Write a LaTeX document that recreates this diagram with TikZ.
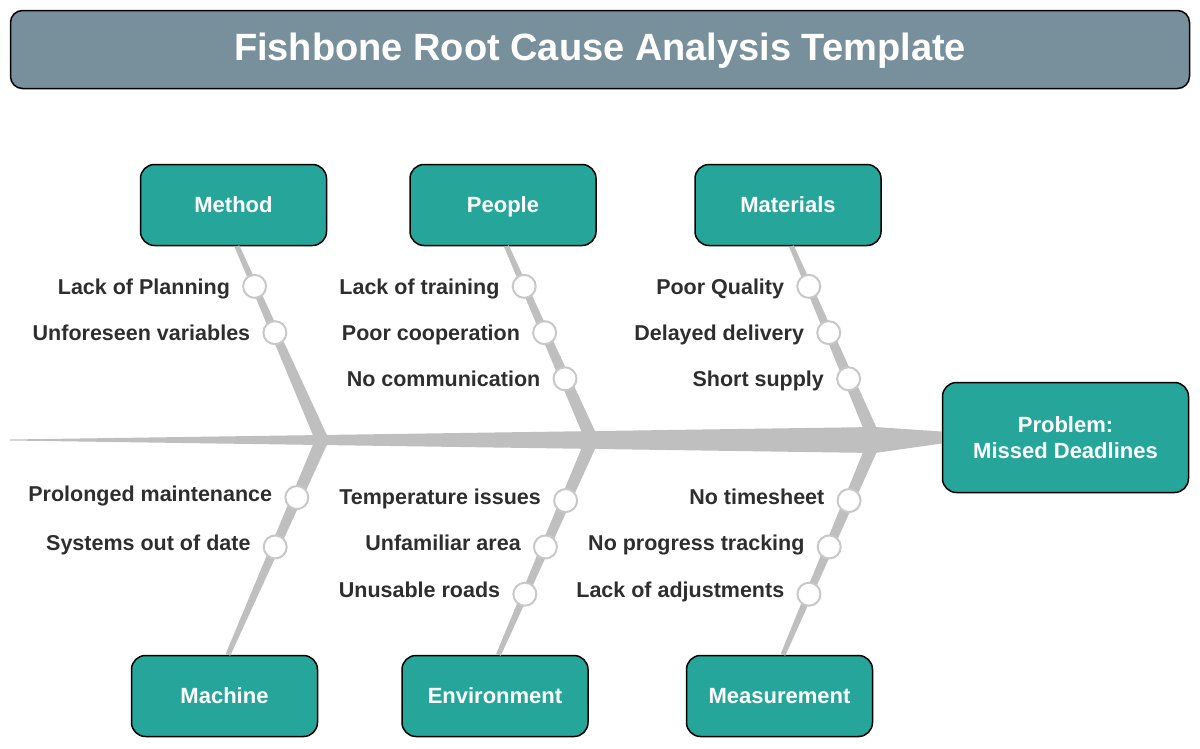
\documentclass[tikz,border=0pt]{standalone}
\usepackage{fontspec}
\setmainfont{Liberation Sans}
\usepackage{tikz}
\usetikzlibrary{calc,positioning}

\definecolor{teal}{HTML}{26A69A}
\definecolor{slate}{HTML}{78909C}
\definecolor{bonegray}{HTML}{BFBFBF}
\definecolor{dotgray}{HTML}{C8C8C8}
\definecolor{textgray}{HTML}{2E2E2E}

\begin{document}
\begin{tikzpicture}[x=1pt, y=-1pt,
        cat/.style={draw=black, line width=1.5pt, fill=teal, rounded corners=14pt, minimum width=186pt, minimum height=81pt, text=white, text height=15.7pt, text depth=0pt, font=\fontsize{22}{26}\selectfont\bfseries},
        titlebox/.style={draw=black, line width=1.5pt, fill=slate, rounded corners=12pt, minimum width=1179pt, minimum height=78pt, text=white, text height=27pt, text depth=5pt, font=\fontsize{38}{40}\selectfont\bfseries},
        bone/.style={fill=bonegray},
        dot/.style={circle, draw=dotgray, line width=2pt, fill=white, minimum size=23pt, inner sep=0pt},
        cause/.style={text=textgray, inner sep=0pt, text height=15.4pt, text depth=0pt, font=\fontsize{21.5}{24}\selectfont\bfseries},
        causelow/.style={cause, yshift=4pt}]
        \useasboundingbox (0,0) rectangle (1200,748);
        \node[titlebox] (title) at (600,49.5) {Fishbone Root Cause Analysis Template};

        \node[cat] (method) at (233.5,205) {Method};
        \node[cat] (people) at (503,205) {People};
        \node[cat] (materials) at (788,205) {Materials};
        \node[cat] (machine) at (224.5,696) {Machine};
        \node[cat] (environment) at (495,696) {Environment};
        \node[cat] (measurement) at (779.5,696) {Measurement};
        \node[cat, minimum width=246pt, minimum height=110pt, text height=, text depth=, align=center] (problem) at (1065.5,437.5) {Problem:\\Missed Deadlines};

        \coordinate (tail) at (10,440);
        \coordinate (j1) at (322,440);
        \coordinate (j2) at (592,440);
        \coordinate (j3) at (875,440);
        \coordinate (mA) at ($(method.south)+(3.5,0)$);
        \coordinate (pA) at ($(people.south)+(3.5,0)$);
        \coordinate (tA) at ($(materials.south)+(3.5,0)$);
        \coordinate (cA) at ($(machine.north)+(3.5,0)$);
        \coordinate (eA) at ($(environment.north)+(3.5,0)$);
        \coordinate (sA) at ($(measurement.north)+(3.5,0)$);

        % spine
        \fill[bone] ($(tail)+(0,-0.5)$) -- ($(j3)+(0,-13)$) -- ($(problem.west)+(0,-6)$) -- ($(problem.west)+(0,6)$) -- ($(j3)+(0,13)$) -- ($(tail)+(0,0.5)$) -- cycle;

        % bones
        \fill[bone] ($(mA)!2.5pt!90:(j1)$) -- ($(mA)!2.5pt!-90:(j1)$) -- ($(j1)!6.5pt!90:(mA)$) -- ($(j1)!6.5pt!-90:(mA)$) -- cycle;
        \fill[bone] ($(pA)!2.5pt!90:(j2)$) -- ($(pA)!2.5pt!-90:(j2)$) -- ($(j2)!6.5pt!90:(pA)$) -- ($(j2)!6.5pt!-90:(pA)$) -- cycle;
        \fill[bone] ($(tA)!2.5pt!90:(j3)$) -- ($(tA)!2.5pt!-90:(j3)$) -- ($(j3)!6.5pt!90:(tA)$) -- ($(j3)!6.5pt!-90:(tA)$) -- cycle;
        \fill[bone] ($(cA)!2.5pt!90:(j1)$) -- ($(cA)!2.5pt!-90:(j1)$) -- ($(j1)!6.5pt!90:(cA)$) -- ($(j1)!6.5pt!-90:(cA)$) -- cycle;
        \fill[bone] ($(eA)!2.5pt!90:(j2)$) -- ($(eA)!2.5pt!-90:(j2)$) -- ($(j2)!6.5pt!90:(eA)$) -- ($(j2)!6.5pt!-90:(eA)$) -- cycle;
        \fill[bone] ($(sA)!2.5pt!90:(j3)$) -- ($(sA)!2.5pt!-90:(j3)$) -- ($(j3)!6.5pt!90:(sA)$) -- ($(j3)!6.5pt!-90:(sA)$) -- cycle;

        % causes
        \node[dot] (m1) at ($(mA)!0.207!(j1)$) {};
        \node[dot] (m2) at ($(mA)!0.446!(j1)$) {};
        \node[cause, left=12pt of m1] (m1t) {Lack of Planning};
        \node[cause, left=12pt of m2] (m2t) {Unforeseen variables};

        \node[dot] (p1) at ($(pA)!0.207!(j2)$) {};
        \node[dot] (p2) at ($(pA)!0.446!(j2)$) {};
        \node[dot] (p3) at ($(pA)!0.684!(j2)$) {};
        \node[cause, left=12pt of p1] (p1t) {Lack of training};
        \node[cause, left=12pt of p2] (p2t) {Poor cooperation};
        \node[cause, left=12pt of p3] (p3t) {No communication};

        \node[dot] (t1) at ($(tA)!0.207!(j3)$) {};
        \node[dot] (t2) at ($(tA)!0.446!(j3)$) {};
        \node[dot] (t3) at ($(tA)!0.684!(j3)$) {};
        \node[cause, left=12pt of t1] (t1t) {Poor Quality};
        \node[cause, left=12pt of t2] (t2t) {Delayed delivery};
        \node[cause, left=12pt of t3] (t3t) {Short supply};

        \node[dot] (c1) at ($(cA)!0.732!(j1)$) {};
        \node[dot] (c2) at ($(cA)!0.502!(j1)$) {};
        \node[causelow, left=12pt of c1] (c1t) {Prolonged maintenance};
        \node[causelow, left=12pt of c2] (c2t) {Systems out of date};

        \node[dot] (e1) at ($(eA)!0.718!(j2)$) {};
        \node[dot] (e2) at ($(eA)!0.502!(j2)$) {};
        \node[dot] (e3) at ($(eA)!0.282!(j2)$) {};
        \node[causelow, left=12pt of e1] (e1t) {Temperature issues};
        \node[causelow, left=12pt of e2] (e2t) {Unfamiliar area};
        \node[causelow, left=12pt of e3] (e3t) {Unusable roads};

        \node[dot] (s1) at ($(sA)!0.718!(j3)$) {};
        \node[dot] (s2) at ($(sA)!0.502!(j3)$) {};
        \node[dot] (s3) at ($(sA)!0.282!(j3)$) {};
        \node[causelow, left=12pt of s1] (s1t) {No timesheet};
        \node[causelow, left=12pt of s2] (s2t) {No progress tracking};
        \node[causelow, left=12pt of s3] (s3t) {Lack of adjustments};
    \end{tikzpicture}
\end{document}
